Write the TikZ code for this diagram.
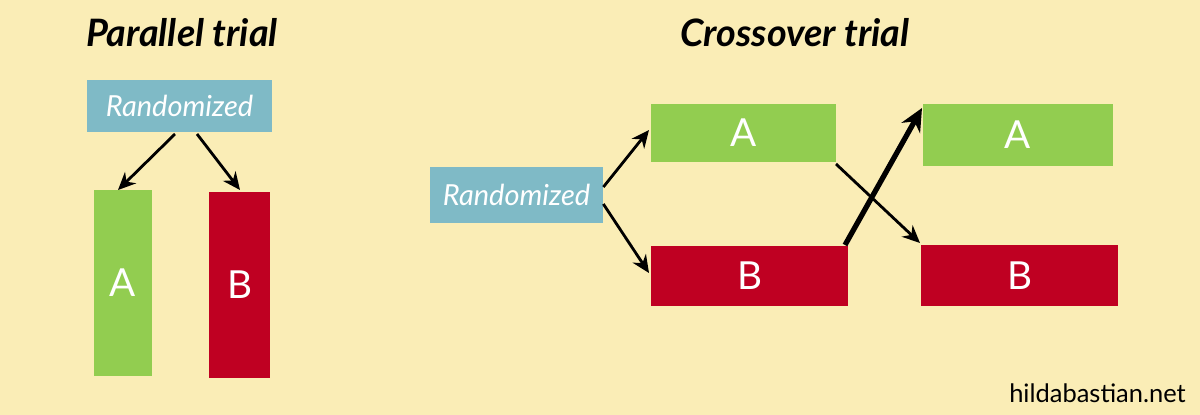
\documentclass[tikz,border=0pt]{standalone}
\usepackage{fontspec}
\setmainfont{Lato}
\usetikzlibrary{arrows.meta}
\definecolor{bg}{HTML}{FAEDB6}
\definecolor{green1}{HTML}{92CD50}
\definecolor{red1}{HTML}{BF0022}
\definecolor{teal1}{HTML}{7FBAC6}
\begin{document}
\begin{tikzpicture}[x=0.02cm,y=-0.02cm,
  box/.style={draw=none,inner sep=0pt,font=\fontsize{22}{25}\selectfont,text=white},
  rnd/.style={box,fill=teal1,font=\itshape\fontsize{16.5}{19}\selectfont},
  grn/.style={box,fill=green1},
  red/.style={box,fill=red1},
  arr/.style={-{Stealth[length=10pt,width=9pt]},line width=1.6pt},
  ttl/.style={font=\bfseries\itshape\fontsize{21.5}{25}\selectfont}]
\fill[bg] (0,0) rectangle (1200,415);
\useasboundingbox (0,0) rectangle (1200,415);
\node[ttl] (t1) at (182,33) {Parallel trial};
\node[ttl] (t2) at (795,33) {Crossover trial};
\node[rnd,minimum width=185*0.02cm,minimum height=52*0.02cm] (r1) at (179.5,106) {Randomized};
\node[grn,minimum width=58*0.02cm,minimum height=186*0.02cm] (pa) at (123,283) {A};
\node[red,minimum width=61*0.02cm,minimum height=186*0.02cm] (pb) at (239.5,285) {B};
\draw[arr] (175,134) -- (118,190);
\draw[arr] (197,134) -- (240,190);
\node[rnd,minimum width=173*0.02cm,minimum height=56*0.02cm] (r2) at (516.5,195) {Randomized};
\node[grn,minimum width=185*0.02cm,minimum height=58*0.02cm] (a1) at (743.5,133) {A};
\node[red,minimum width=197*0.02cm,minimum height=60*0.02cm] (b1) at (749.5,276) {B};
\node[grn,minimum width=190*0.02cm,minimum height=62*0.02cm] (a2) at (1018,135) {A};
\node[red,minimum width=197*0.02cm,minimum height=61*0.02cm] (b2) at (1019.5,275.5) {B};
\draw[arr] (r2.east|-0,187) -- (649,130);
\draw[arr] (r2.east|-0,204) -- (649,273);
\draw[arr] (836,164) -- (920,243);
\draw[arr,line width=3pt,-{Stealth[length=13pt,width=12pt]}] (845,245) -- (922,108);
\node[font=\fontsize{14.5}{17}\selectfont,anchor=east] (w) at (1192,393) {hildabastian.net};
\end{tikzpicture}
\end{document}
